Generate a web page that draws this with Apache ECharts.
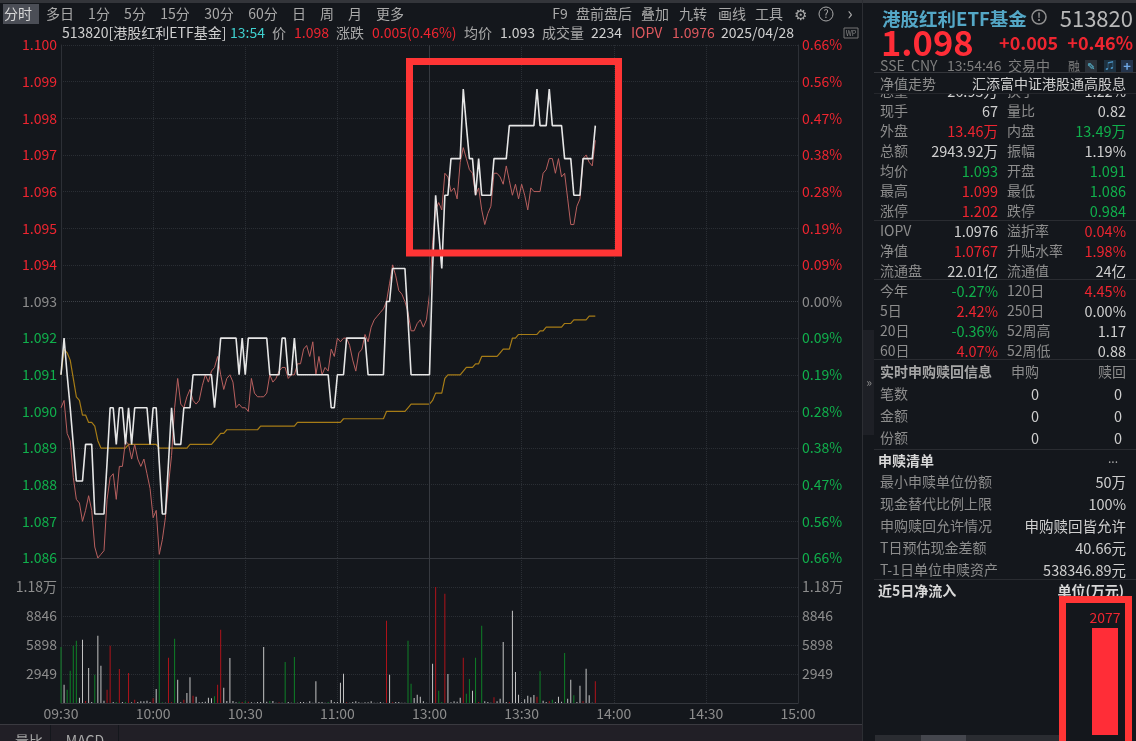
<!DOCTYPE html>
<html>
<head>
<meta charset="utf-8">
<title>513820</title>
<style>
html, body { margin: 0; padding: 0; background: #14171c; }
#main { width: 1136px; height: 741px; }
</style>
<script src="https://cdn.jsdelivr.net/npm/echarts@6/dist/echarts.min.js"></script>
</head>
<body>
<div id="main"></div>
<script>
// tick labels
var timeLabels = ['09:30', '10:00', '10:30', '11:00', '13:00', '13:30', '14:00', '14:30', '15:00'];
var pctLabels = ['0.66%', '0.56%', '0.47%', '0.38%', '0.28%', '0.19%', '0.09%', '0.00%', '0.09%', '0.19%', '0.28%', '0.38%', '0.47%', '0.56%', '0.66%'];
var volLabels = { 2949: '2949', 5898: '5898', 8847: '8846', 11796: '1.18万' };

// white price line, one point a minute from 09:30
var priceLine = [
	1.0910, 1.0920, 1.0910, 1.0901, 1.0891, 1.0881, 1.0881, 1.0881, 1.0891, 1.0891,
	1.0891, 1.0872, 1.0872, 1.0872, 1.0872, 1.0886, 1.0901, 1.0901, 1.0891, 1.0901,
	1.0901, 1.0891, 1.0901, 1.0891, 1.0901, 1.0901, 1.0901, 1.0901, 1.0901, 1.0891,
	1.0901, 1.0901, 1.0886, 1.0872, 1.0872, 1.0886, 1.0901, 1.0891, 1.0891, 1.0891,
	1.0901, 1.0901, 1.0901, 1.0910, 1.0910, 1.0910, 1.0910, 1.0910, 1.0910, 1.0910,
	1.0901, 1.0910, 1.0920, 1.0920, 1.0920, 1.0920, 1.0920, 1.0920, 1.0910, 1.0920,
	1.0910, 1.0920, 1.0920, 1.0920, 1.0920, 1.0920, 1.0920, 1.0920, 1.0910, 1.0910,
	1.0910, 1.0910, 1.0920, 1.0920, 1.0910, 1.0910, 1.0920, 1.0910, 1.0910, 1.0910,
	1.0910, 1.0910, 1.0910, 1.0910, 1.0910, 1.0910, 1.0910, 1.0910, 1.0901, 1.0901,
	1.0910, 1.0910, 1.0910, 1.0920, 1.0920, 1.0920, 1.0920, 1.0920, 1.0920, 1.0920,
	1.0910, 1.0910, 1.0910, 1.0910, 1.0910, 1.0910, 1.0930, 1.0930, 1.0939, 1.0939,
	1.0939, 1.0939, 1.0939, 1.0925, 1.0910, 1.0910, 1.0910, 1.0910, 1.0910, 1.0910,
	1.0910, 1.0939, 1.0959, 1.0949, 1.0939, 1.0959, 1.0959, 1.0969, 1.0969, 1.0969,
	1.0969, 1.0988, 1.0978, 1.0969, 1.0969, 1.0959, 1.0969, 1.0959, 1.0959, 1.0959,
	1.0959, 1.0969, 1.0969, 1.0969, 1.0969, 1.0969, 1.0978, 1.0978, 1.0978, 1.0978,
	1.0978, 1.0978, 1.0978, 1.0978, 1.0978, 1.0988, 1.0978, 1.0978, 1.0978, 1.0988,
	1.0978, 1.0978, 1.0978, 1.0978, 1.0969, 1.0969, 1.0969, 1.0959, 1.0959, 1.0959,
	1.0969, 1.0969, 1.0969, 1.0969, 1.0978
];

// thin pink IOPV line
var iopvLine = [
	1.0901, 1.0903, 1.0894, 1.0892, 1.0882, 1.0876, 1.0875, 1.0870, 1.0873, 1.0877,
	1.0873, 1.0863, 1.0860, 1.0861, 1.0862, 1.0876, 1.0882, 1.0883, 1.0876, 1.0885,
	1.0885, 1.0892, 1.0891, 1.0887, 1.0891, 1.0887, 1.0885, 1.0887, 1.0883, 1.0879,
	1.0871, 1.0873, 1.0861, 1.0865, 1.0871, 1.0880, 1.0888, 1.0901, 1.0909, 1.0902,
	1.0901, 1.0904, 1.0906, 1.0903, 1.0902, 1.0903, 1.0907, 1.0910, 1.0908, 1.0911,
	1.0912, 1.0915, 1.0910, 1.0906, 1.0909, 1.0910, 1.0908, 1.0901, 1.0902, 1.0901,
	1.0901, 1.0900, 1.0909, 1.0905, 1.0904, 1.0904, 1.0904, 1.0905, 1.0910, 1.0908,
	1.0909, 1.0911, 1.0912, 1.0912, 1.0909, 1.0910, 1.0910, 1.0913, 1.0913, 1.0917,
	1.0918, 1.0915, 1.0919, 1.0910, 1.0915, 1.0910, 1.0912, 1.0911, 1.0917, 1.0915,
	1.0920, 1.0919, 1.0920, 1.0920, 1.0918, 1.0914, 1.0911, 1.0916, 1.0917, 1.0921,
	1.0919, 1.0923, 1.0925, 1.0926, 1.0927, 1.0928, 1.0930, 1.0935, 1.0940, 1.0937,
	1.0933, 1.0932, 1.0930, 1.0927, 1.0922, 1.0922, 1.0924, 1.0925, 1.0923, 1.0925,
	1.0932, 1.0946, 1.0955, 1.0957, 1.0955, 1.0965, 1.0964, 1.0960, 1.0961, 1.0958,
	1.0968, 1.0972, 1.0969, 1.0966, 1.0965, 1.0959, 1.0961, 1.0955, 1.0951, 1.0954,
	1.0956, 1.0965, 1.0965, 1.0964, 1.0962, 1.0967, 1.0963, 1.0959, 1.0962, 1.0958,
	1.0962, 1.0959, 1.0955, 1.0961, 1.0960, 1.0960, 1.0960, 1.0965, 1.0966, 1.0969,
	1.0969, 1.0965, 1.0969, 1.0964, 1.0965, 1.0958, 1.0951, 1.0951, 1.0956, 1.0958,
	1.0969, 1.0970, 1.0968, 1.0967, 1.0974
];

// gold average price line
var avgLine = [
	1.0910, 1.0917, 1.0916, 1.0914, 1.0909, 1.0904, 1.0903, 1.0899, 1.0899, 1.0897,
	1.0897, 1.0896, 1.0892, 1.0890, 1.0890, 1.0890, 1.0890, 1.0890, 1.0890, 1.0890,
	1.0890, 1.0890, 1.0891, 1.0891, 1.0891, 1.0891, 1.0891, 1.0891, 1.0891, 1.0891,
	1.0891, 1.0891, 1.0890, 1.0890, 1.0890, 1.0890, 1.0890, 1.0890, 1.0890, 1.0890,
	1.0890, 1.0890, 1.0891, 1.0891, 1.0891, 1.0891, 1.0891, 1.0891, 1.0891, 1.0891,
	1.0892, 1.0893, 1.0894, 1.0894, 1.0895, 1.0895, 1.0895, 1.0895, 1.0895, 1.0895,
	1.0895, 1.0895, 1.0895, 1.0895, 1.0895, 1.0896, 1.0896, 1.0896, 1.0896, 1.0896,
	1.0896, 1.0896, 1.0896, 1.0896, 1.0896, 1.0896, 1.0896, 1.0897, 1.0897, 1.0897,
	1.0897, 1.0897, 1.0897, 1.0897, 1.0897, 1.0897, 1.0897, 1.0897, 1.0897, 1.0897,
	1.0897, 1.0897, 1.0898, 1.0898, 1.0898, 1.0898, 1.0898, 1.0898, 1.0898, 1.0898,
	1.0898, 1.0898, 1.0898, 1.0898, 1.0898, 1.0898, 1.0900, 1.0900, 1.0900, 1.0900,
	1.0900, 1.0900, 1.0900, 1.0901, 1.0902, 1.0902, 1.0902, 1.0902, 1.0902, 1.0902,
	1.0902, 1.0903, 1.0905, 1.0905, 1.0905, 1.0909, 1.0910, 1.0910, 1.0910, 1.0910,
	1.0910, 1.0911, 1.0912, 1.0912, 1.0912, 1.0913, 1.0913, 1.0915, 1.0915, 1.0915,
	1.0915, 1.0915, 1.0915, 1.0916, 1.0917, 1.0917, 1.0917, 1.0920, 1.0920, 1.0921,
	1.0921, 1.0921, 1.0921, 1.0921, 1.0921, 1.0921, 1.0922, 1.0922, 1.0923, 1.0923,
	1.0923, 1.0923, 1.0923, 1.0923, 1.0924, 1.0924, 1.0924, 1.0925, 1.0925, 1.0925,
	1.0925, 1.0925, 1.0926, 1.0926, 1.0926
];

// volume bars, direction u = red, d = green, n = white
var volumes = [
	5695, 1865, 1356, 3288, 5830, 6339, 542, 6441, 200, 3560,
	100, 2880, 6848, 3797, 237, 1356, 5830, 100, 100, 3458,
	100, 100, 3051, 70, 340, 100, 170, 170, 237, 100,
	475, 1424, 14577, 70, 30, 4610, 70, 6543, 2373, 70,
	340, 1017, 2610, 746, 644, 70, 100, 130, 542, 475,
	678, 1865, 7458, 1559, 200, 4577, 200, 70, 130, 100,
	170, 130, 70, 30, 100, 100, 5695, 130, 200, 200,
	30, 70, 30, 4170, 100, 30, 4680, 30, 100, 100,
	30, 170, 30, 2200, 100, 100, 30, 100, 300, 100,
	100, 2068, 2983, 70, 30, 100, 170, 70, 30, 70,
	70, 170, 30, 30, 100, 30, 8373, 2880, 70, 100,
	100, 30, 30, 6339, 1966, 508, 847, 644, 170, 30,
	746, 4000, 11797, 1254, 100, 11119, 2949, 70, 170, 130,
	542, 4610, 949, 2441, 1254, 4610, 100, 7865, 170, 100,
	30, 576, 170, 440, 6204, 100, 100, 9390, 3153, 847,
	70, 373, 746, 576, 814, 644, 3220, 237, 100, 170,
	340, 100, 644, 130, 5085, 440, 2373, 780, 100, 1763,
	170, 3492, 780, 30, 2204
];
var volumeDirs = [
	'dnddddnnun', 'ndnnnuundu', 'ndununnnnn', 'unddnuudnn', 'unnunnnnnn',
	'duunnnnndu', 'dunnnnnndn', 'nundnndnnn', 'nnnnnnndnn', 'nnnunnnnnn',
	'nnnnnnunun', 'nnnddnnnnn', 'unuddunnnn', 'nuddndudnn', 'nunnnnunnn',
	'nnnnnudnnu', 'dnnndnndnn', 'unnnu'
].join('').split('');

var netInflow = [2077];

// quote panel rows: label, value, colour, label, value, colour
var quoteRows = [
	[91, '总量', '26.95万', 'w', '换手', '1.22%', 'w'],
	[111, '现手', '67', 'w', '量比', '0.82', 'w'],
	[131, '外盘', '13.46万', 'r', '内盘', '13.49万', 'g'],
	[151, '总额', '2943.92万', 'w', '振幅', '1.19%', 'w'],
	[171, '均价', '1.093', 'g', '开盘', '1.091', 'g'],
	[191, '最高', '1.099', 'r', '最低', '1.086', 'g'],
	[211, '涨停', '1.202', 'r', '跌停', '0.984', 'g'],
	[231, 'IOPV', '1.0976', 'w', '溢折率', '0.04%', 'r'],
	[251, '净值', '1.0767', 'r', '升贴水率', '1.98%', 'r'],
	[271, '流通盘', '22.01亿', 'w', '流通值', '24亿', 'w'],
	[291, '今年', '-0.27%', 'g', '120日', '4.45%', 'r'],
	[311, '5日', '2.42%', 'r', '250日', '0.00%', 'w'],
	[331, '20日', '-0.36%', 'g', '52周高', '1.17', 'w'],
	[351, '60日', '4.07%', 'r', '52周低', '0.88', 'w']
];
var redeemRows = [[394, '笔数', '0', '0'], [416, '金额', '0', '0'], [438, '份额', '0', '0']];
var basketRows = [
	[482, '最小申赎单位份额', '50万'],
	[504, '现金替代比例上限', '100%'],
	[526, '申购赎回允许情况', '申购赎回皆允许'],
	[548, 'T日预估现金差额', '40.66元'],
	[570, 'T-1日单位申赎资产', '538346.89元']
];
var toolbarLeft = [['分时', 18], ['多日', 60], ['1分', 99], ['5分', 135], ['15分', 175], ['30分', 219], ['60分', 263], ['日', 299], ['周', 327], ['月', 355], ['更多', 390]];
var toolbarRight = [['F9', 560], ['盘前盘后', 604], ['叠加', 655], ['九转', 693], ['画线', 732], ['工具', 769]];

var RED = '#ee2530', GREEN = '#10b04c', GRAY = '#8d8d8d', WHITE = '#cfcfcf', BG = '#14171c';
var FONT = '"Noto Sans CJK SC", "Noto Sans", sans-serif';
var colorOf = { r: RED, g: GREEN, w: WHITE };

// one category per minute, the lunch break is skipped
var minutes = [];
for (var m = 0; m <= 240; m++) {
	minutes.push(m % 30 === 0 ? timeLabels[m / 30] : String(m));
}

var gfx = [];

function text(str, x, y, color, size, align, bold, z) {
	gfx.push({
		type: 'text', z: z || 5, silent: true,
		style: {
			x: x, y: y, text: str, fill: color, align: align || 'left', verticalAlign: 'middle',
			font: (bold ? 'bold ' : '') + size + 'px ' + FONT
		}
	});
}

function box(x, y, w, h, fill, z) {
	gfx.push({ type: 'rect', z: z === undefined ? 1 : z, silent: true, shape: { x: x, y: y, width: w, height: h }, style: { fill: fill } });
}

function frame(x, y, w, h) {
	gfx.push({
		type: 'rect', z: 60, zlevel: 1, silent: true, shape: { x: x, y: y, width: w, height: h },
		style: { fill: 'none', stroke: '#ff3535', lineWidth: 7 }
	});
}

function buildPanel() {
	var i;
	// toolbar
	box(0, 0, 1136, 3, '#33353a');
	box(3, 4, 36, 20, '#4b4e56');
	for (i = 0; i < toolbarLeft.length; i++) {
		text(toolbarLeft[i][0], toolbarLeft[i][1], 14, i === 0 ? '#d8d8d8' : '#a9a9a9', 14, 'center');
	}
	for (i = 0; i < toolbarRight.length; i++) {
		text(toolbarRight[i][0], toolbarRight[i][1], 14, '#a9a9a9', 14, 'center');
	}
	text('⚙', 800, 14, '#a9a9a9', 15, 'center');
	gfx.push({ type: 'circle', z: 5, silent: true, shape: { cx: 826, cy: 14, r: 7 }, style: { fill: 'none', stroke: '#a9a9a9' } });
	text('?', 826, 14, '#a9a9a9', 11, 'center');
	text('›', 850, 13, '#a9a9a9', 18, 'center');

	// info line over the chart
	text('513820[港股红利ETF基金]', 62, 33, WHITE, 14);
	text('13:54', 230, 33, '#3fd0cf', 14);
	text('价', 272, 33, '#a9a9a9', 14);
	text('1.098', 294, 33, RED, 14);
	text('涨跌', 336, 33, '#a9a9a9', 14);
	text('0.005(0.46%)', 372, 33, RED, 14);
	text('均价', 464, 33, '#a9a9a9', 14);
	text('1.093', 500, 33, WHITE, 14);
	text('成交量', 542, 33, '#a9a9a9', 14);
	text('2234', 591, 33, WHITE, 14);
	text('IOPV', 631, 33, '#e0595f', 14);
	text('1.0976', 672, 33, '#e0595f', 14);
	text('2025/04/28', 721, 33, WHITE, 14);
	gfx.push({ type: 'rect', z: 5, silent: true, shape: { x: 844, y: 28, width: 14, height: 10 }, style: { fill: 'none', stroke: '#777' } });
	text('WP', 851, 33, '#888', 7, 'center');

	// bottom tabs
	box(0, 725, 862, 16, '#211f26');
	box(0, 724, 862, 1, '#3a3a40');
	box(50, 725, 1, 16, '#14171c');
	box(118, 725, 1, 16, '#14171c');
	text('量比', 29, 741, '#a9a9a9', 14, 'center');
	text('MACD', 85, 741, '#a9a9a9', 14, 'center');

	// panel divider and collapse handle
	box(862, 0, 1, 741, '#2c2e33');
	box(863, 330, 11, 105, '#1e2026');
	text('»', 869, 382, '#8a8a8a', 12, 'center');

	// header of the quote panel
	text('港股红利ETF基金', 882, 19, '#54a7c6', 18.5, 'left', true);
	gfx.push({ type: 'circle', z: 5, silent: true, shape: { cx: 1039, cy: 17, r: 7 }, style: { fill: 'none', stroke: '#909090', lineWidth: 1.5 } });
	text('!', 1039, 17, '#909090', 11, 'center', true);
	text('513820', 1133, 19, '#b8b8b8', 22, 'right');
	text('1.098', 881, 43, '#ff2d37', 34.5, 'left', true);
	text('+0.005', 1058, 43, RED, 18, 'right', true);
	text('+0.46%', 1133, 43, RED, 18, 'right', true);
	text('SSE', 880, 66, '#7f7f7f', 14);
	text('CNY', 911, 66, '#7f7f7f', 14);
	text('13:54:46', 947, 66, '#7f7f7f', 14);
	text('交易中', 1008, 66, '#7f7f7f', 14);
	text('融', 1068, 66, '#7f7f7f', 12);
	box(1085, 60, 12, 12, '#2a3038');
	text('✎', 1091, 66, '#5cc3e0', 10, 'center');
	box(1104, 60, 12, 12, '#1d3140');
	text('♫', 1110, 66, '#4a90c0', 9, 'center');
	box(1121, 60, 12, 12, '#24344c');
	text('+', 1127, 66, '#6fa8e8', 13, 'center', true);
	box(874, 72, 262, 1, '#34363b');

	// rows, the first one is half hidden under the title bar
	for (i = 0; i < quoteRows.length; i++) {
		var q = quoteRows[i];
		text(q[1], 880, q[0], GRAY, 14, 'left', false, 3);
		text(q[2], 998, q[0], colorOf[q[3]], 14.5, 'right', false, 3);
		text(q[4], 1007, q[0], GRAY, 14, 'left', false, 3);
		text(q[5], 1126, q[0], colorOf[q[6]], 14.5, 'right', false, 3);
	}
	box(875, 73, 261, 20, BG, 4);
	box(874, 93, 262, 1, '#25272c', 4);
	text('净值走势', 880, 84, GRAY, 14);
	text('汇添富中证港股通高股息', 1126, 84, WHITE, 14, 'right');
	box(874, 220, 262, 1, '#2a2c31');
	box(874, 279, 262, 1, '#2a2c31');
	box(874, 359, 262, 1, '#2a2c31');
	box(874, 449, 262, 1, '#2a2c31');
	box(874, 579, 262, 1, '#2a2c31');

	text('实时申购赎回信息', 880, 372, '#a6a6a6', 14, 'left', true);
	text('申购', 1039, 372, GRAY, 14, 'right');
	text('赎回', 1126, 372, GRAY, 14, 'right');
	for (i = 0; i < redeemRows.length; i++) {
		text(redeemRows[i][1], 880, redeemRows[i][0], GRAY, 14);
		text(redeemRows[i][2], 1039, redeemRows[i][0], WHITE, 14.5, 'right');
		text(redeemRows[i][3], 1122, redeemRows[i][0], WHITE, 14.5, 'right');
	}
	text('申赎清单', 878, 461, '#d8d8d8', 14, 'left', true);
	text('...', 1113, 458, '#b0b0b0', 12, 'center');
	for (i = 0; i < basketRows.length; i++) {
		text(basketRows[i][1], 880, basketRows[i][0], GRAY, 14);
		text(basketRows[i][2], 1126, basketRows[i][0], WHITE, 14.5, 'right');
	}
	text('近5日净流入', 878, 591, '#d8d8d8', 14, 'left', true);
	text('单位(万元)', 1124, 591, '#d8d8d8', 14, 'right', true);

	// scrollbar under the small bar chart
	box(875, 735, 184, 6, '#2a2c31');
	box(921, 735, 45, 6, '#44464d');

	// the two red marker frames
	frame(409.5, 61.5, 209, 191.5);
	frame(1062.5, 599.5, 66, 145);
}

function initOption() {
	buildPanel();

	// the line at 1.093 (eighth from the bottom) is brighter
	var priceGridColors = [];
	for (var t = 0; t < 15; t++) {
		priceGridColors.push(t === 7 ? '#3c4046' : '#2a2e34');
	}
	var dividerLine = {
		silent: true, symbol: 'none', animation: false, label: { show: false },
		lineStyle: { color: '#373a40', type: 'solid', width: 1 },
		data: [{ xAxis: 120 }]
	};

	function priceColor(v) {
		if (v > 1.0931) return RED;
		if (v < 1.0929) return GREEN;
		return GRAY;
	}

	function xAxisOf(gridIndex, labelled) {
		return {
			type: 'category', gridIndex: gridIndex, data: minutes, boundaryGap: false,
			axisLine: { lineStyle: { color: '#34373d' } },
			axisTick: { show: false },
			axisLabel: {
				show: labelled, color: GRAY, fontSize: 14, fontFamily: FONT, margin: 4,
				interval: function (i) { return i % 30 === 0; },
				showMinLabel: true, showMaxLabel: true,
				formatter: function (v, i) { return timeLabels[i / 30]; }
			},
			splitLine: {
				show: true, interval: function (i) { return i % 30 === 0; },
				lineStyle: { color: '#2a2e34', type: 'dotted' }
			}
		};
	}

	return {
		backgroundColor: BG,
		animation: false,
		graphic: { elements: gfx },
		grid: [
			{ left: 61, right: 338, top: 45, height: 513 },
			{ left: 61, right: 338, top: 558, height: 145 },
			{ left: 1080, width: 50, top: 628, height: 107 }
		],
		xAxis: [
			xAxisOf(0, false),
			xAxisOf(1, true),
			{ type: 'category', gridIndex: 2, data: ['04/28'], show: false }
		],
		yAxis: [
			{
				type: 'value', gridIndex: 0, min: 1.086, max: 1.1, interval: 0.001, position: 'left',
				axisLine: { show: true, lineStyle: { color: '#2d3036' } }, axisTick: { show: false },
				splitLine: { show: true, lineStyle: { color: priceGridColors, type: 'dotted' } },
				axisLabel: {
					fontSize: 14, fontFamily: FONT, margin: 4,
					color: priceColor,
					formatter: function (v) { return v.toFixed(3); }
				}
			},
			{
				type: 'value', gridIndex: 0, min: 1.086, max: 1.1, interval: 0.001, position: 'right',
				axisLine: { show: true, lineStyle: { color: '#2d3036' } }, axisTick: { show: false },
				splitLine: { show: false },
				axisLabel: {
					fontSize: 14, fontFamily: FONT, margin: 4,
					color: priceColor,
					formatter: function (v) { return pctLabels[Math.round((1.1 - v) * 1000)]; }
				}
			},
			{
				type: 'value', gridIndex: 1, min: 0, max: 14745, interval: 2949, position: 'left',
				axisLine: { show: true, lineStyle: { color: '#2d3036' } }, axisTick: { show: false },
				splitLine: { show: true, lineStyle: { color: '#2a2e34', type: 'dotted' } },
				axisLabel: {
					fontSize: 14, fontFamily: FONT, margin: 4, color: GRAY,
					formatter: function (v) { return volLabels[v] || ''; }
				}
			},
			{
				type: 'value', gridIndex: 1, min: 0, max: 14745, interval: 2949, position: 'right',
				axisLine: { show: true, lineStyle: { color: '#2d3036' } }, axisTick: { show: false },
				splitLine: { show: false },
				axisLabel: {
					fontSize: 14, fontFamily: FONT, margin: 4, color: GRAY,
					formatter: function (v) { return volLabels[v] || ''; }
				}
			},
			{ type: 'value', gridIndex: 2, min: 0, max: 2077, show: false }
		],
		series: [
			{
				name: '均价', type: 'line', xAxisIndex: 0, yAxisIndex: 0, data: avgLine,
				showSymbol: false, lineStyle: { color: '#a67c16', width: 1.2 }, z: 3,
				markLine: dividerLine
			},
			{
				name: 'IOPV', type: 'line', xAxisIndex: 0, yAxisIndex: 0, data: iopvLine,
				showSymbol: false, lineStyle: { color: '#b8605f', width: 1 }, z: 4
			},
			{
				name: '价格', type: 'line', xAxisIndex: 0, yAxisIndex: 0, data: priceLine,
				showSymbol: false, lineStyle: { color: '#e6e6e6', width: 1.6 }, z: 5
			},
			{
				name: '成交量', type: 'bar', xAxisIndex: 1, yAxisIndex: 2, barWidth: 1,
				data: volumes.map(function (v, i) {
					var d = volumeDirs[i];
					return { value: v, itemStyle: { color: d === 'u' ? '#b0131a' : (d === 'd' ? '#0e8027' : '#c4c4c4') } };
				}),
				markLine: dividerLine
			},
			{
				name: '净流入', type: 'bar', xAxisIndex: 2, yAxisIndex: 4, data: netInflow, barWidth: 26,
				itemStyle: { color: '#ff2d37' },
				label: { show: true, position: 'top', color: RED, fontSize: 14, fontFamily: FONT, distance: 3 }
			}
		]
	};
}

var myChart = echarts.init(document.getElementById('main'));
myChart.setOption(initOption());
</script>
</body>
</html>
